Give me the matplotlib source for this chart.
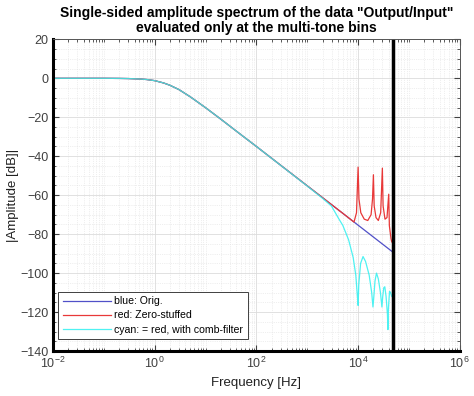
import numpy as np
import matplotlib
matplotlib.use('Agg')
import matplotlib.pyplot as plt
from matplotlib.ticker import FixedLocator, MultipleLocator, NullFormatter

plt.rcParams['font.family'] = ['Liberation Sans', 'DejaVu Sans']

title = 'Single-sided amplitude spectrum of the data "Output/Input"\nevaluated only at the multi-tone bins'

# values (Hz, dB)
freq_orig = [0.01, 0.1, 0.2, 0.3, 0.5, 0.7, 1, 1.5, 2, 3, 5, 7, 10, 20, 50, 100,
             1000, 10000, 46000]
amp_orig = [0, 0, -0.05, -0.12, -0.33, -0.63, -1.2, -2.4, -3.6, -5.8, -9.5, -12.2,
            -15.1, -21.0, -29.0, -35.0, -55.2, -75.4, -88.8]

freq_zero = [0.01, 0.1, 0.2, 0.3, 0.5, 0.7, 1, 1.5, 2, 3, 5, 7, 10, 20, 50, 100,
             1000, 5000, 8300, 9300, 10000, 10400, 11300, 13200, 15500, 18000,
             19200, 20000, 20700, 22500, 25000, 27800, 30000, 31000, 33800,
             37000, 40000, 41200, 44500, 46000]
amp_zero = [0, 0, -0.05, -0.12, -0.33, -0.63, -1.2, -2.4, -3.6, -5.8, -9.5, -12.2,
            -15.1, -21.0, -29.0, -35.0, -55.2, -69.3, -73.8, -69.0, -45.6, -62.0,
            -69.0, -72.3, -73.0, -70.0, -62.0, -49.5, -65.5, -71.5, -73.0, -69.0,
            -46.1, -65.5, -72.3, -71.5, -59.5, -75.7, -82.5, -84.0]

freq_comb = [0.01, 0.1, 0.2, 0.3, 0.5, 0.7, 1, 1.5, 2, 3, 5, 7, 10, 20, 50, 100,
             1000, 2000, 3000, 4100, 5000, 6500, 8000, 9000, 9700, 10000, 10300,
             11200, 12500, 14000, 16500, 18500, 19600, 20400, 21500, 23000,
             25000, 27500, 29400, 30500, 32000, 33500, 35500, 37700, 38600,
             39500, 41500, 43500, 46000]
amp_comb = [0, 0, -0.05, -0.12, -0.33, -0.63, -1.2, -2.4, -3.6, -5.8, -9.5, -12.2,
            -15.1, -21.0, -29.0, -35.0, -55.3, -61.6, -65.6, -71.8, -75.5, -82.9,
            -92.0, -101.0, -112.0, -116.6, -106.0, -95.0, -91.5, -94.0, -101.0,
            -110.0, -117.4, -112.0, -104.0, -100.0, -103.0, -110.0, -117.4,
            -112.0, -107.5, -107.0, -112.0, -121.0, -129.0, -118.0, -109.4,
            -110.0, -112.0]

x_ticks = [1e-2, 1e0, 1e2, 1e4, 1e6]
f_max = 48000

fig = plt.figure(figsize=(4.74, 3.96), dpi=100)
ax = fig.add_axes([0.112, 0.1136, 0.858, 0.787])

ax.semilogx(freq_orig, amp_orig, color='#5050c8', lw=0.9, label='blue: Orig.')
ax.semilogx(freq_zero, amp_zero, color='#e83838', lw=0.9, label='red: Zero-stuffed')
ax.semilogx(freq_comb, amp_comb, color='#30f0f0', lw=0.9, alpha=0.85,
            label='cyan: = red, with comb-filter')
ax.axvline(f_max, color='black', lw=2.5)

ax.set_xlim(1e-2, 1e6)
ax.set_ylim(-140, 20)
ax.set_xticks(x_ticks)
minor = [m * 10.0 ** e for e in range(-2, 6) for m in range(1, 10)
         if m * 10.0 ** e not in x_ticks]
ax.xaxis.set_minor_locator(FixedLocator(minor))
ax.xaxis.set_minor_formatter(NullFormatter())
ax.yaxis.set_major_locator(MultipleLocator(20))
ax.yaxis.set_minor_locator(MultipleLocator(5))

ax.grid(which='major', color='#dcdcdc', lw=0.6, ls='-')
ax.grid(which='minor', color='#e0e0e0', lw=0.5, ls=':')
ax.set_axisbelow(True)

ax.tick_params(which='both', direction='in', top=True, right=True,
               colors='#404040', labelsize=9)
ax.tick_params(which='major', length=4)
ax.tick_params(which='minor', length=2)
for s in ['top', 'right']:
    ax.spines[s].set_color('#555555')
    ax.spines[s].set_linewidth(0.7)
for s in ['left', 'bottom']:
    ax.spines[s].set_color('black')
    ax.spines[s].set_linewidth(2.2)

ax.set_xlabel('Frequency [Hz]', fontsize=9.5, color='#202020')
ax.set_ylabel('|Amplitude [dB]|', fontsize=9.5, color='#202020', labelpad=1)
ax.set_title(title, fontsize=10, fontweight='bold', pad=5, linespacing=1.15)

leg = ax.legend(loc='lower left', fontsize=7.6, fancybox=False, framealpha=1,
                edgecolor='#404040', handlelength=4.6, handletextpad=0.3,
                borderaxespad=0.5, labelspacing=0.4, borderpad=0.4,
                bbox_to_anchor=(0.0, 0.022))
leg.get_frame().set_linewidth(0.7)

fig.savefig('out.png', dpi=100)
